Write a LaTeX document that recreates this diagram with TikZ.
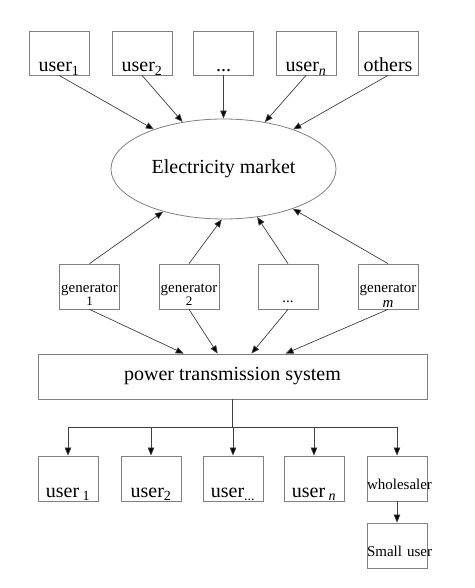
\documentclass[tikz,border=0pt]{standalone}
\usepackage{fontspec}
\setmainfont{Liberation Serif}
\usetikzlibrary{arrows.meta,shapes.geometric}
\definecolor{framegray}{gray}{0.5}
\definecolor{linkgray}{gray}{0.25}
\newcommand{\threedots}{...}
\tikzset{
	box/.style={draw=framegray, line width=0.8pt, inner sep=0pt, text width=60pt, align=center},
	userbox/.style={box, minimum height=44pt, text height=41pt, text depth=3pt},
	lowbox/.style={box, minimum height=45pt, text height=41pt, text depth=4pt},
	smallbox/.style={box, minimum height=45pt, text height=33.5pt, text depth=11.5pt, font=\fontsize{15}{17}\selectfont},
	genbox/.style={box, minimum height=45pt, text height=28pt, text depth=17pt, font=\fontsize{15}{13}\selectfont},
	link/.style={draw=linkgray, line width=0.7pt, -{Triangle[length=8pt,width=6.5pt,fill=black]}},
}
\begin{document}
\begin{tikzpicture}[x=1pt, y=-1pt, font=\fontsize{20}{22}\selectfont]
	\useasboundingbox (0,0) rectangle (474,588);
	%users on top
	\foreach \x/\t [count=\i] in {59/user\textsubscript{1}, 142/user\textsubscript{2}, 223.5/\threedots, 306/user\textsubscript{\textit{n}}, 388/others}
	\node[userbox] (u\i) at (\x,53) {\t};
	%market
	\node[ellipse, draw=framegray, line width=0.8pt, inner sep=0pt, minimum width=225pt, minimum height=100pt] (market) at (223.5,169) {Electricity market};
	%generators
	\foreach \x/\t [count=\i] in {89.5/{generator\\{\fontsize{13}{13}\selectfont 1}}, 189/{generator\\{\fontsize{13}{13}\selectfont 2}}, 288/{\phantom{generator}\\[-3pt]\threedots}, 388/{generator\\[2pt]\textit{m}}}
	\node[genbox] (g\i) at (\x,286.5) {\t};
	%grid
	\node[draw=framegray, line width=0.8pt, inner sep=0pt, minimum width=389pt, minimum height=45pt] (grid) at (232.5,376.5) {power transmission system};
	%users below
	\foreach \x/\t [count=\i] in {68/user\,\textsubscript{1}, 151/user\textsubscript{2}, 233/user\textsubscript{\threedots}, 314/user\,\textsubscript{\textit{n}}}
	\node[lowbox] (b\i) at (\x,478.5) {\t};
	\node[smallbox] (b5) at (397,478.5) {wholesaler};
	\node[smallbox] (small) at (397,545.5) {Small~user};
	%links
	\foreach \i in {1,...,5}
	\draw[link] (u\i.south) -- (market);
	\draw[link] (g1.north) -- (market);
	\draw[link] (g2.north) -- (market.268);
	\draw[link] (g3.north) -- (market.305);
	\draw[link] (g4.north) -- (market);
	\foreach \i in {1,...,4}
	\draw[link] (g\i.south) -- (grid);
	\foreach \i in {1,...,5}
	\draw[link] (grid.south) -- ++(0,28) -| (b\i.north);
	\draw[link] (b5) -- (small);
\end{tikzpicture}
\end{document}
